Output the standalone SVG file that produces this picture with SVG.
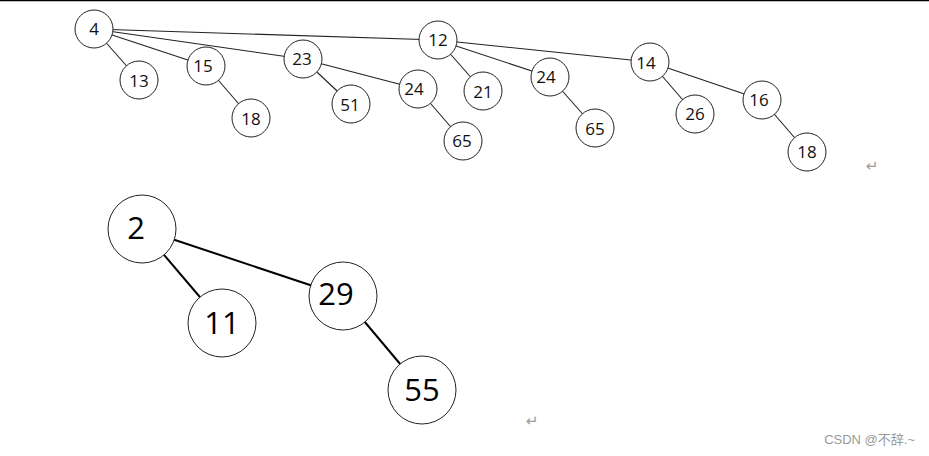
<svg xmlns="http://www.w3.org/2000/svg" width="929" height="456" viewBox="0 0 929 456">
<style>
.e{stroke:#222;stroke-width:1.1;fill:none}
.eb{stroke:#000;stroke-width:2;fill:none}
.n circle{fill:#fff;stroke:#222;stroke-width:1}
.n text{font-family:"Open Sans","Liberation Sans",sans-serif;font-size:17px;fill:#111;text-anchor:middle;dominant-baseline:central}
.b circle{fill:#fff;stroke:#222;stroke-width:1}
.b text{font-family:"Open Sans","Liberation Sans",sans-serif;font-size:31px;fill:#000;text-anchor:middle;dominant-baseline:central}
.m{font-family:"DejaVu Sans",sans-serif;font-size:15px;fill:#999;text-anchor:middle}
</style>
<rect width="929" height="456" fill="#fff"/>
<line x1="0" y1="0.5" x2="929" y2="0.5" stroke="#000" stroke-width="1.5"/>
<g id="connectors">
<line class="e" x1="94" y1="29" x2="139" y2="80"/>
<line class="e" x1="94" y1="29" x2="206" y2="66"/>
<line class="e" x1="94" y1="29" x2="303" y2="59"/>
<line class="e" x1="94" y1="29" x2="438" y2="40"/>
<line class="e" x1="206" y1="66" x2="251" y2="118"/>
<line class="e" x1="303" y1="59" x2="351" y2="104"/>
<line class="e" x1="303" y1="59" x2="418" y2="89"/>
<line class="e" x1="418" y1="89" x2="463" y2="141"/>
<line class="e" x1="438" y1="40" x2="483" y2="91"/>
<line class="e" x1="438" y1="40" x2="550" y2="77"/>
<line class="e" x1="438" y1="40" x2="650" y2="62"/>
<line class="e" x1="550" y1="77" x2="595" y2="128"/>
<line class="e" x1="650" y1="62" x2="695" y2="114"/>
<line class="e" x1="650" y1="62" x2="762" y2="100"/>
<line class="e" x1="762" y1="100" x2="807" y2="152"/>
<line class="eb" x1="142" y1="229" x2="222" y2="323"/>
<line class="eb" x1="142" y1="229" x2="343" y2="296"/>
<line class="eb" x1="343" y1="296" x2="422" y2="390"/>
</g>
<g id="n4" class="n"><circle cx="94" cy="29" r="19"/><text x="94" y="28">4</text></g>
<g id="n13" class="n"><circle cx="139" cy="80" r="19"/><text x="139" y="80">13</text></g>
<g id="n15" class="n"><circle cx="206" cy="66" r="19"/><text x="203" y="65">15</text></g>
<g id="n18a" class="n"><circle cx="251" cy="118" r="19"/><text x="251" y="118">18</text></g>
<g id="n23" class="n"><circle cx="303" cy="59" r="19"/><text x="302" y="58">23</text></g>
<g id="n51" class="n"><circle cx="351" cy="104" r="19"/><text x="350" y="104">51</text></g>
<g id="n24a" class="n"><circle cx="418" cy="89" r="19"/><text x="414" y="88">24</text></g>
<g id="n65a" class="n"><circle cx="463" cy="141" r="19"/><text x="462" y="140">65</text></g>
<g id="n12" class="n"><circle cx="438" cy="40" r="19"/><text x="438" y="39">12</text></g>
<g id="n21" class="n"><circle cx="483" cy="91" r="19"/><text x="483" y="91">21</text></g>
<g id="n24b" class="n"><circle cx="550" cy="77" r="19"/><text x="546" y="76">24</text></g>
<g id="n65b" class="n"><circle cx="595" cy="128" r="19"/><text x="595" y="128">65</text></g>
<g id="n14" class="n"><circle cx="650" cy="62" r="19"/><text x="646" y="62">14</text></g>
<g id="n26" class="n"><circle cx="695" cy="114" r="19"/><text x="695" y="113">26</text></g>
<g id="n16" class="n"><circle cx="762" cy="100" r="19"/><text x="759" y="99">16</text></g>
<g id="n18b" class="n"><circle cx="807" cy="152" r="19"/><text x="807" y="151">18</text></g>
<g id="n2" class="b"><circle cx="142" cy="229" r="34"/><text x="136" y="227">2</text></g>
<g id="n11" class="b"><circle cx="222" cy="323" r="34"/><text x="222" y="322">11</text></g>
<g id="n29" class="b"><circle cx="343" cy="296" r="34"/><text x="336" y="293">29</text></g>
<g id="n55" class="b"><circle cx="422" cy="390" r="34"/><text x="422" y="389">55</text></g>
<text class="m" x="872" y="171">↵</text>
<text class="m" x="532" y="426">↵</text>
<text x="915" y="444" text-anchor="end" font-family="'Liberation Sans','Noto Sans CJK SC',sans-serif" font-size="13" fill="#999">CSDN @不辞.~</text>
</svg>
